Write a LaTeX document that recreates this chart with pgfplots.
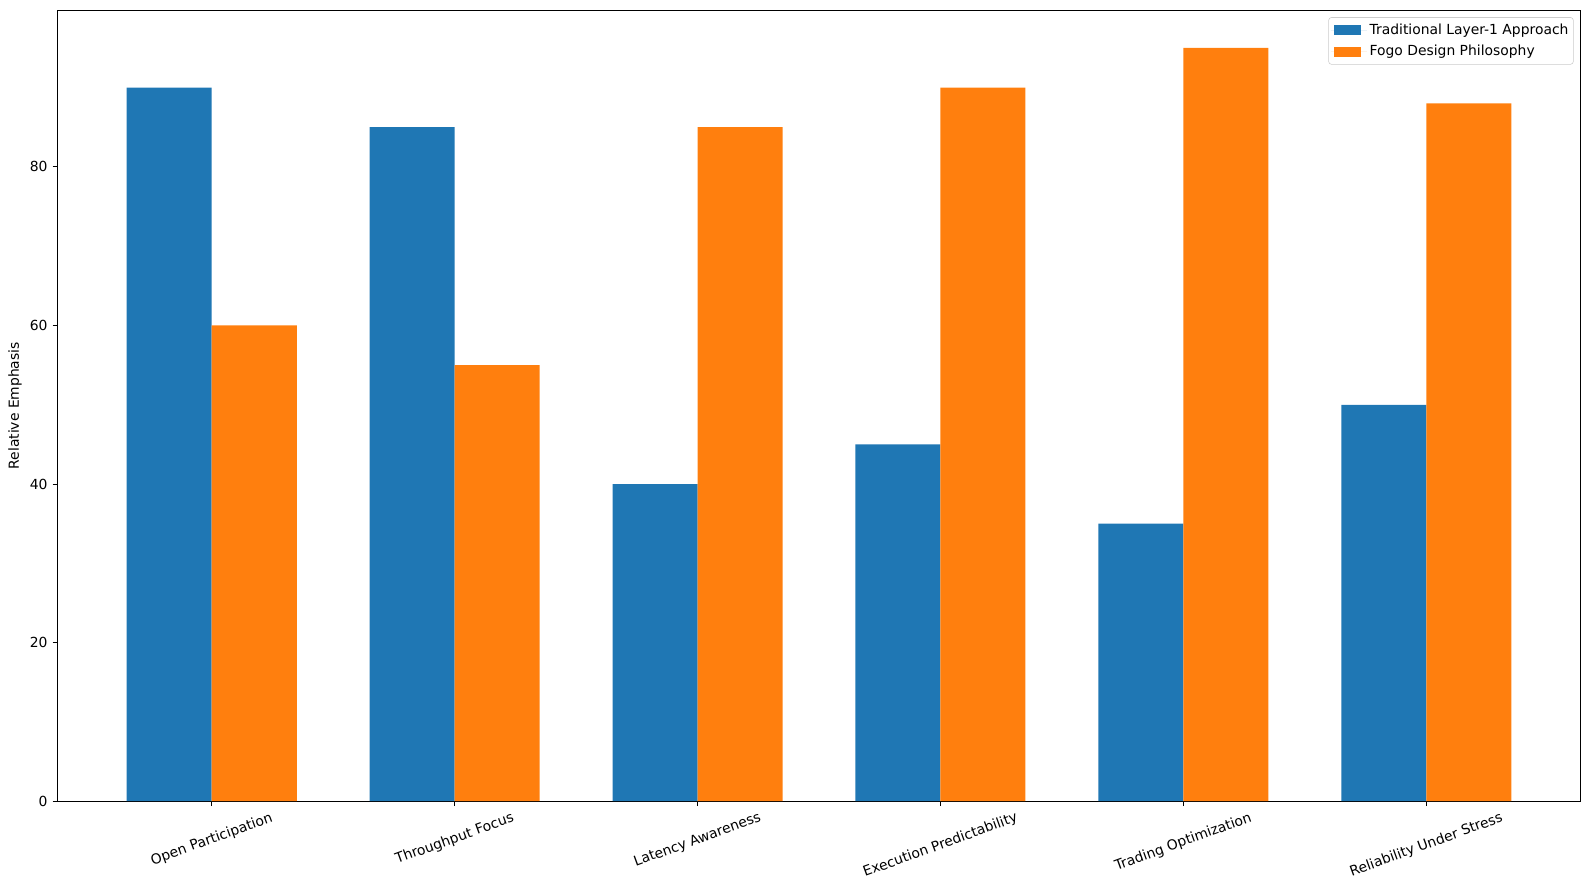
\documentclass[border=0pt]{standalone}
\usepackage{fontspec}
\setmainfont{DejaVu Sans}
\usepackage{graphicx}
\usepackage{pgfplots}
\pgfplotsset{compat=1.18}
\definecolor{tabblue}{HTML}{1F77B4}
\definecolor{taborange}{HTML}{FF7F0E}
\begin{document}
\fontsize{10pt}{12pt}\selectfont
\begin{tikzpicture}
\useasboundingbox (-41.4pt,-63.9pt) rectangle (1102.7pt,576.9pt);
\begin{axis}[
  at={(0,0)}, anchor=south west,
  scale only axis,
  width=1096.6pt, height=569.5pt,
  xmin=-0.635, xmax=5.635,
  ymin=0, ymax=99.75,
  xtick={0,1,2,3,4,5},
  xticklabels={
    \rotatebox{20}{Open Participation},
    \rotatebox{20}{Throughput Focus},
    \rotatebox{20}{Latency Awareness},
    \rotatebox{20}{Execution Predictability},
    \rotatebox{20}{Trading Optimization},
    \rotatebox{20}{Reliability Under Stress}},
  ytick={0,20,40,60,80},
  tick align=outside,
  xtick pos=bottom, ytick pos=left,
  major tick length=3.5pt,
  tick style={black, line width=0.8pt},
  axis line style={line width=0.8pt},
  /pgf/number format/assume math mode=true,
  ticklabel style={font=\fontsize{10pt}{12pt}\selectfont},
  xticklabel style={anchor=north, inner sep=0pt, yshift=-3.5pt},
  yticklabel style={anchor=east, inner sep=0pt, xshift=-3.5pt},
  ylabel={Relative Emphasis},
  every axis y label/.style={at={(axis description cs:-0.0279,0.5)}, rotate=90, anchor=center, font=\fontsize{10pt}{12pt}\selectfont},
  ybar, bar width=0.35,
  legend style={at={(1,1)}, anchor=north east, xshift=-5pt, yshift=-5pt,
    draw=black!20, rounded corners=2pt, fill=white, fill opacity=0.8, text opacity=1,
    font=\fontsize{10pt}{12pt}\selectfont, row sep=2.5pt, inner xsep=1.5pt, inner ysep=2.5pt},
  legend cell align=left,
  legend image code/.code={\path (-2pt,0pt) -- (24pt,0pt); \fill[#1, sharp corners, fill opacity=1] (0pt,-3.5pt) rectangle (20pt,3.5pt);},
]
\addplot[fill=tabblue, draw=none, bar shift=-0.175] coordinates {(0,90) (1,85) (2,40) (3,45) (4,35) (5,50)};
\addlegendentry{Traditional Layer-1 Approach}
\addplot[fill=taborange, draw=none, bar shift=0.175] coordinates {(0,60) (1,55) (2,85) (3,90) (4,95) (5,88)};
\addlegendentry{Fogo Design Philosophy}
\end{axis}
\end{tikzpicture}
\end{document}
